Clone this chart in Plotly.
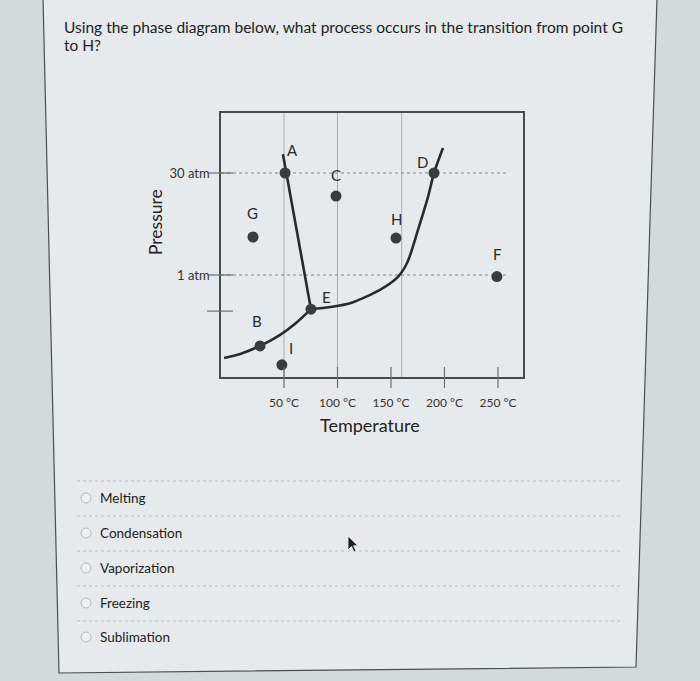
import math
import plotly.graph_objects as go

# ---------------- data ----------------
point_names = ["A", "B", "C", "D", "E", "F", "G", "H", "I"]
point_temp = [51.0, 27.6, 98.6, 190.2, 75.2, 249.0, 21.0, 154.7, 48.0]     # °C
point_press = [30.0, 0.094, 13.9, 30.0, 0.32, 0.95, 3.55, 3.43, 0.050]     # atm

fusion_temp = [49.0, 75.2]
fusion_press = [56.0, 0.32]

sublim_temp = [-6.0, 9.0, 27.6, 46.0, 61.0, 75.2]
sublim_press = [0.063, 0.072, 0.094, 0.135, 0.20, 0.32]

vapor_temp = [75.2, 93.0, 111.7, 139.7, 156.5, 165.0, 175.2, 184.6, 190.2, 198.6]
vapor_press = [0.32, 0.344, 0.39, 0.61, 0.94, 1.49, 4.48, 13.5, 30.0, 69.0]

x_tick_vals = [50, 100, 150, 200, 250]
x_tick_text = ["50 °C", "100 °C", "150 °C", "200 °C", "250 °C"]
y_tick_vals = [0.3, 1, 30]
y_tick_text = ["", "1 atm", "30 atm"]
ref_press = [1, 30]            # dotted reference lines
grid_temp = [50, 100, 160]     # faint vertical grid lines

x_title = "Temperature"
y_title = "Pressure"
question = ["Using the phase diagram below, what process occurs in the transition from point G",
            "to H?"]
answers = ["Melting", "Condensation", "Vaporization", "Freezing", "Sublimation"]

# label offsets (pixels) for the point letters
label_dx = [7, -3, 0, -11, 16, 0, 0, 0, 9]
label_dy = [23, 25, 21, 11, 12, 23, 24, 19, 17]

# ---------------- layout geometry ----------------
FW, FH = 700, 681
L, R, T, B = 221, 523, 113, 377
PW, PH = R - L, B - T
XR = [-8.9, 273.4]
YR = [-1.477, 2.346]


def px(x):
    return (x - L) / PW


def py(y):
    return (B - y) / PH


FONT = "Lato, 'Open Sans', sans-serif"
INK = "#2a2a2a"

fig = go.Figure()

# curves
for tx, pp in [(fusion_temp, fusion_press), (sublim_temp, sublim_press), (vapor_temp, vapor_press)]:
    fig.add_trace(go.Scatter(x=tx, y=pp, mode="lines",
                             line=dict(color=INK, width=2.6, shape="spline", smoothing=0.8),
                             hoverinfo="skip", showlegend=False))

# points
fig.add_trace(go.Scatter(x=point_temp, y=point_press, mode="markers",
                         marker=dict(size=11, color="#3b3b3b"),
                         text=point_names, showlegend=False))

# point labels
for n, tx, pp, dx, dy in zip(point_names, point_temp, point_press, label_dx, label_dy):
    fig.add_annotation(x=tx, y=math.log10(pp), text=n, showarrow=False,
                       xanchor="center", yanchor="middle",
                       xshift=dx, yshift=dy, font=dict(family=FONT, size=15, color=INK))

shapes = []
# panel (photographed page)
shapes.append(dict(type="path", xref="paper", yref="paper", layer="below",
                   path=f"M {px(43)},{py(-2)} L {px(657)},{py(-2)} L {px(636)},{py(667)} L {px(59)},{py(673)} Z",
                   fillcolor="#e6eaec", line=dict(color="#4a4f52", width=1.2)))

# vertical faint grid lines
for g in grid_temp:
    shapes.append(dict(type="line", xref="x", yref="paper", x0=g, x1=g, y0=0, y1=1,
                       line=dict(color="#a9adb0", width=1), layer="below"))
# horizontal dotted reference lines
for p in ref_press:
    shapes.append(dict(type="line", xref="x", yref="y", x0=XR[0], x1=258, y0=p, y1=p,
                       line=dict(color="#80868a", width=1.2, dash="dot"), layer="below"))
# y tick crosses
for p in y_tick_vals:
    shapes.append(dict(type="line", xref="paper", yref="y", x0=px(207), x1=px(233), y0=p, y1=p,
                       line=dict(color="#6a6f72", width=1.2)))
# x tick crosses
for t in x_tick_vals:
    shapes.append(dict(type="line", xref="x", yref="paper", x0=t, x1=t, y0=py(388), y1=py(367),
                       line=dict(color="#6a6f72", width=1.2)))

# answer separators and radio buttons
sep_y = [481, 516, 551, 586, 621]
ans_y = [498, 533, 568, 603, 637]
for yy in sep_y:
    shapes.append(dict(type="line", xref="paper", yref="paper", x0=px(77), x1=px(622), y0=py(yy), y1=py(yy),
                       line=dict(color="#b8bcbf", width=1, dash="dot")))
for yy in ans_y:
    shapes.append(dict(type="circle", xref="paper", yref="paper",
                       x0=px(81), x1=px(91), y0=py(yy + 5), y1=py(yy - 5),
                       fillcolor="#eef0f1", line=dict(color="#b4b8bb", width=1)))

# mouse cursor
cx, cy = 348, 536
cur = [(0, 0), (0, 14), (3.5, 10.5), (6, 16), (8, 15), (5.5, 9.8), (10, 9.8)]
path = "M " + " L ".join(f"{px(cx + a)},{py(cy + b)}" for a, b in cur) + " Z"
shapes.append(dict(type="path", xref="paper", yref="paper", path=path,
                   fillcolor="#1e1e1e", line=dict(color="#f2f2f2", width=0.8)))

fig.update_layout(shapes=shapes)

# question text
fig.add_annotation(xref="paper", yref="paper", x=px(343), y=py(27), text=question[0],
                   xanchor="center", yanchor="middle",
                   showarrow=False, font=dict(family=FONT, size=15.5, color="#222222"))
fig.add_annotation(xref="paper", yref="paper", x=px(62), y=py(45), text=question[1],
                   xanchor="left", yanchor="middle",
                   showarrow=False, font=dict(family=FONT, size=15.5, color="#222222"))

# axis titles
fig.add_annotation(xref="paper", yref="paper", x=px(370), y=py(425), text=x_title,
                   xanchor="center", yanchor="middle", showarrow=False,
                   font=dict(family=FONT, size=18, color="#222222"))
fig.add_annotation(xref="paper", yref="paper", x=px(155), y=py(222), text=y_title,
                   xanchor="center", yanchor="middle", showarrow=False, textangle=-90,
                   font=dict(family=FONT, size=17.5, color="#222222"))

# answers
for a, yy in zip(answers, ans_y):
    fig.add_annotation(xref="paper", yref="paper", x=px(98), y=py(yy), text=a,
                       xanchor="left", yanchor="middle", showarrow=False,
                       font=dict(family=FONT, size=13.5, color="#222222"))

fig.update_xaxes(range=XR, tickvals=x_tick_vals, ticktext=x_tick_text, ticks="",
                 showgrid=False, zeroline=False, showline=True, mirror=True,
                 linecolor="#4a4a4a", linewidth=1.5, ticklabelstandoff=14,
                 tickfont=dict(family=FONT, size=12, color="#333333"))
fig.update_yaxes(type="log", range=YR, tickvals=y_tick_vals, ticktext=y_tick_text, ticks="",
                 showgrid=False, zeroline=False, showline=True, mirror=True,
                 linecolor="#4a4a4a", linewidth=1.5, ticklabelstandoff=7,
                 tickfont=dict(family=FONT, size=13, color="#333333"))

fig.update_layout(width=FW, height=FH,
                  margin=dict(l=L, r=FW - R, t=T, b=FH - B),
                  paper_bgcolor="#d4d9dc", plot_bgcolor="rgba(0,0,0,0)",
                  showlegend=False)

fig.write_html("out.html")
